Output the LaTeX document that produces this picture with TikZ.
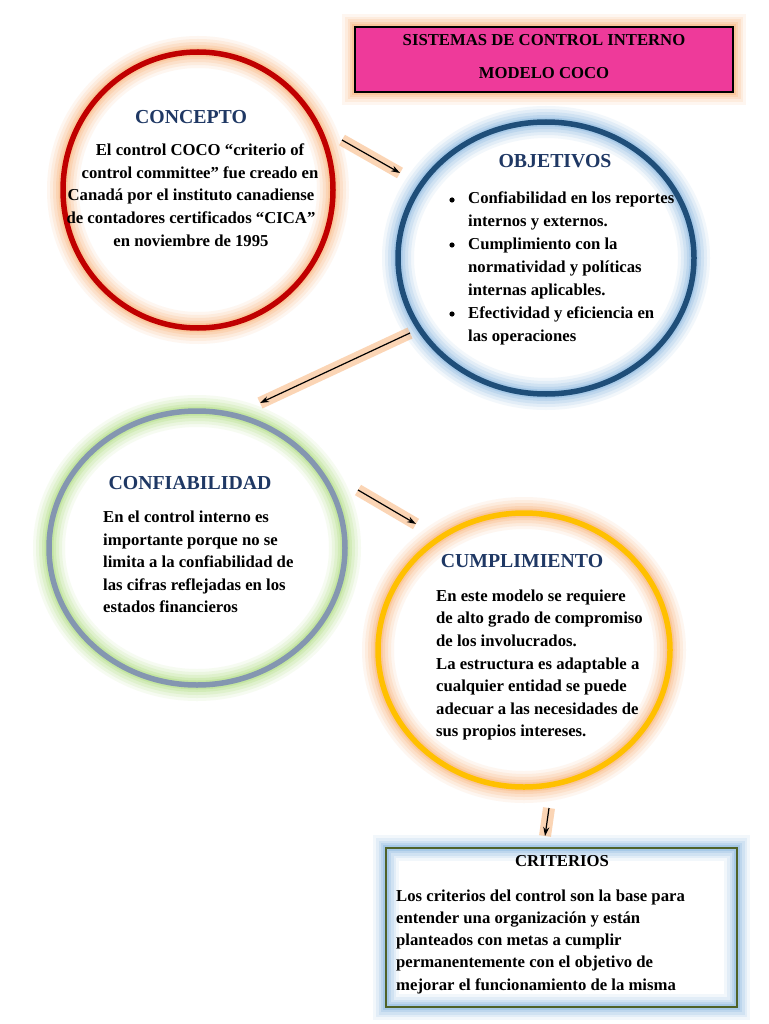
\documentclass[tikz,border=0pt]{standalone}
\usepackage{fontspec}
\setmainfont{Liberation Serif}
\usetikzlibrary{arrows.meta}
\definecolor{pinkf}{HTML}{EE3A9A}
\definecolor{redc}{HTML}{C00000}
\definecolor{bluec}{HTML}{1F4E79}
\definecolor{greyc}{HTML}{8496B0}
\definecolor{goldc}{HTML}{FFC000}
\definecolor{greenb}{HTML}{4F6228}
\definecolor{headc}{HTML}{1F3864}
\definecolor{glowo}{HTML}{F79646}
\definecolor{glowb}{HTML}{5B9BD5}
\definecolor{glowg}{HTML}{92D050}
\tikzset{
 head/.style={font=\bfseries\fontsize{19.8}{23}\selectfont,text=headc,inner sep=0,text height=13pt,text depth=3pt},
 body/.style={font=\bfseries\fontsize{16.7}{19}\selectfont,inner sep=0,text height=11pt,text depth=3pt},
 bl/.style={body,anchor=west},
 conn/.style={-{Stealth[length=9pt,width=6pt]},line width=1.2pt},
 glowline/.style={line width=12pt,glowo,opacity=0.4}
}
\newcommand{\glowellipse}[4]{%
 \foreach \w/\o in {32/0.08,26/0.1,20/0.13,14/0.16,9/0.22}{\draw[#4,line width=\w pt,opacity=\o] (#1) ellipse [x radius=#2,y radius=#3];}}
\newcommand{\glowrect}[3]{%
 \foreach \w/\o in {26/0.08,20/0.1,15/0.13,10/0.16,6/0.22}{\draw[#3,line width=\w pt,opacity=\o] (#1) rectangle (#2);}}
\begin{document}
\begin{tikzpicture}[x=1pt,y=-1pt]
\useasboundingbox[fill=white] (0,0) rectangle (768,1024);
% title
\glowrect{355,27}{733,92}{glowo}
\node[draw=black,line width=2pt,fill=pinkf,minimum width=378pt,minimum height=65pt] (title) at (544,59.5) {};
\node[body] (t1) at (544,42) {SISTEMAS DE CONTROL INTERNO};
\node[body] (t2) at (544,75) {MODELO COCO};
% circles
\glowellipse{198,190}{135}{138}{glowo}
\draw[redc,line width=5.5pt] (198,190) ellipse [x radius=135,y radius=138];
\glowellipse{546,258}{148}{136}{glowb}
\draw[bluec,line width=5.5pt] (546,258) ellipse [x radius=148,y radius=136];
\glowellipse{197,548}{148}{137}{glowg}
\draw[greyc,line width=5.5pt] (197,548) ellipse [x radius=148,y radius=137];
\glowellipse{524,650}{146}{137}{glowo}
\draw[goldc,line width=5.5pt] (524,650) ellipse [x radius=146,y radius=137];
% criterios
\glowrect{386,848}{737,1007}{glowb}
\draw[greenb,line width=2pt] (386,848) rectangle (737,1007);
% arrows
\coordinate (a1s) at (342,140); \coordinate (a1e) at (400,173);
\coordinate (a2s) at (410,333); \coordinate (a2e) at (260,403);
\coordinate (a3s) at (358,490); \coordinate (a3e) at (416,524);
\coordinate (a4s) at (549,808); \coordinate (a4e) at (545,836);
\foreach \s/\e in {a1s/a1e,a2s/a2e,a3s/a3e,a4s/a4e}{
 \draw[glowline] (\s) -- (\e);
 \draw[conn] (\s) -- (\e);}
% concepto text
\node[head] (h1) at (191,119) {CONCEPTO};
\node[body] at (200,152) {El control COCO “criterio of};
\node[body] at (200,175) {control committee” fue creado en};
\node[body] at (191,197) {Canadá por el instituto canadiense};
\node[body] at (191,220) {de contadores certificados “CICA”};
\node[body] at (191,243) {en noviembre de 1995};
% objetivos
\node[head] (h2) at (555,163) {OBJETIVOS};
\foreach \y in {200,245,314}{\fill (452,\y) circle (2.6);}
\node[bl] at (468,200) {Confiabilidad en los reportes};
\node[bl] at (468,222) {internos y externos.};
\node[bl] at (468,245) {Cumplimiento con la};
\node[bl] at (468,268) {normatividad y políticas};
\node[bl] at (468,291) {internas aplicables.};
\node[bl] at (468,314) {Efectividad y eficiencia en};
\node[bl] at (468,337) {las operaciones};
% confiabilidad
\node[head] (h3) at (190,484) {CONFIABILIDAD};
\node[bl] at (103,518) {En el control interno es};
\node[bl] at (103,541) {importante porque no se};
\node[bl] at (103,563) {limita a la confiabilidad de};
\node[bl] at (103,586) {las cifras reflejadas en los};
\node[bl] at (103,608) {estados financieros};
% cumplimiento
\node[head] (h4) at (522,562) {CUMPLIMIENTO};
\node[bl] at (436,597) {En este modelo se requiere};
\node[bl] at (436,619) {de alto grado de compromiso};
\node[bl] at (436,642) {de los involucrados.};
\node[bl] at (436,665) {La estructura es adaptable a};
\node[bl] at (436,687) {cualquier entidad se puede};
\node[bl] at (436,710) {adecuar a las necesidades de};
\node[bl] at (436,732) {sus propios intereses.};
% criterios text
\node[body] (h5) at (562,862) {CRITERIOS};
\node[bl] at (396,897) {Los criterios del control son la base para};
\node[bl] at (396,919) {entender una organización y están};
\node[bl] at (396,941) {planteados con metas a cumplir};
\node[bl] at (396,963) {permanentemente con el objetivo de};
\node[bl] at (396,986) {mejorar el funcionamiento de la misma};
\end{tikzpicture}
\end{document}
